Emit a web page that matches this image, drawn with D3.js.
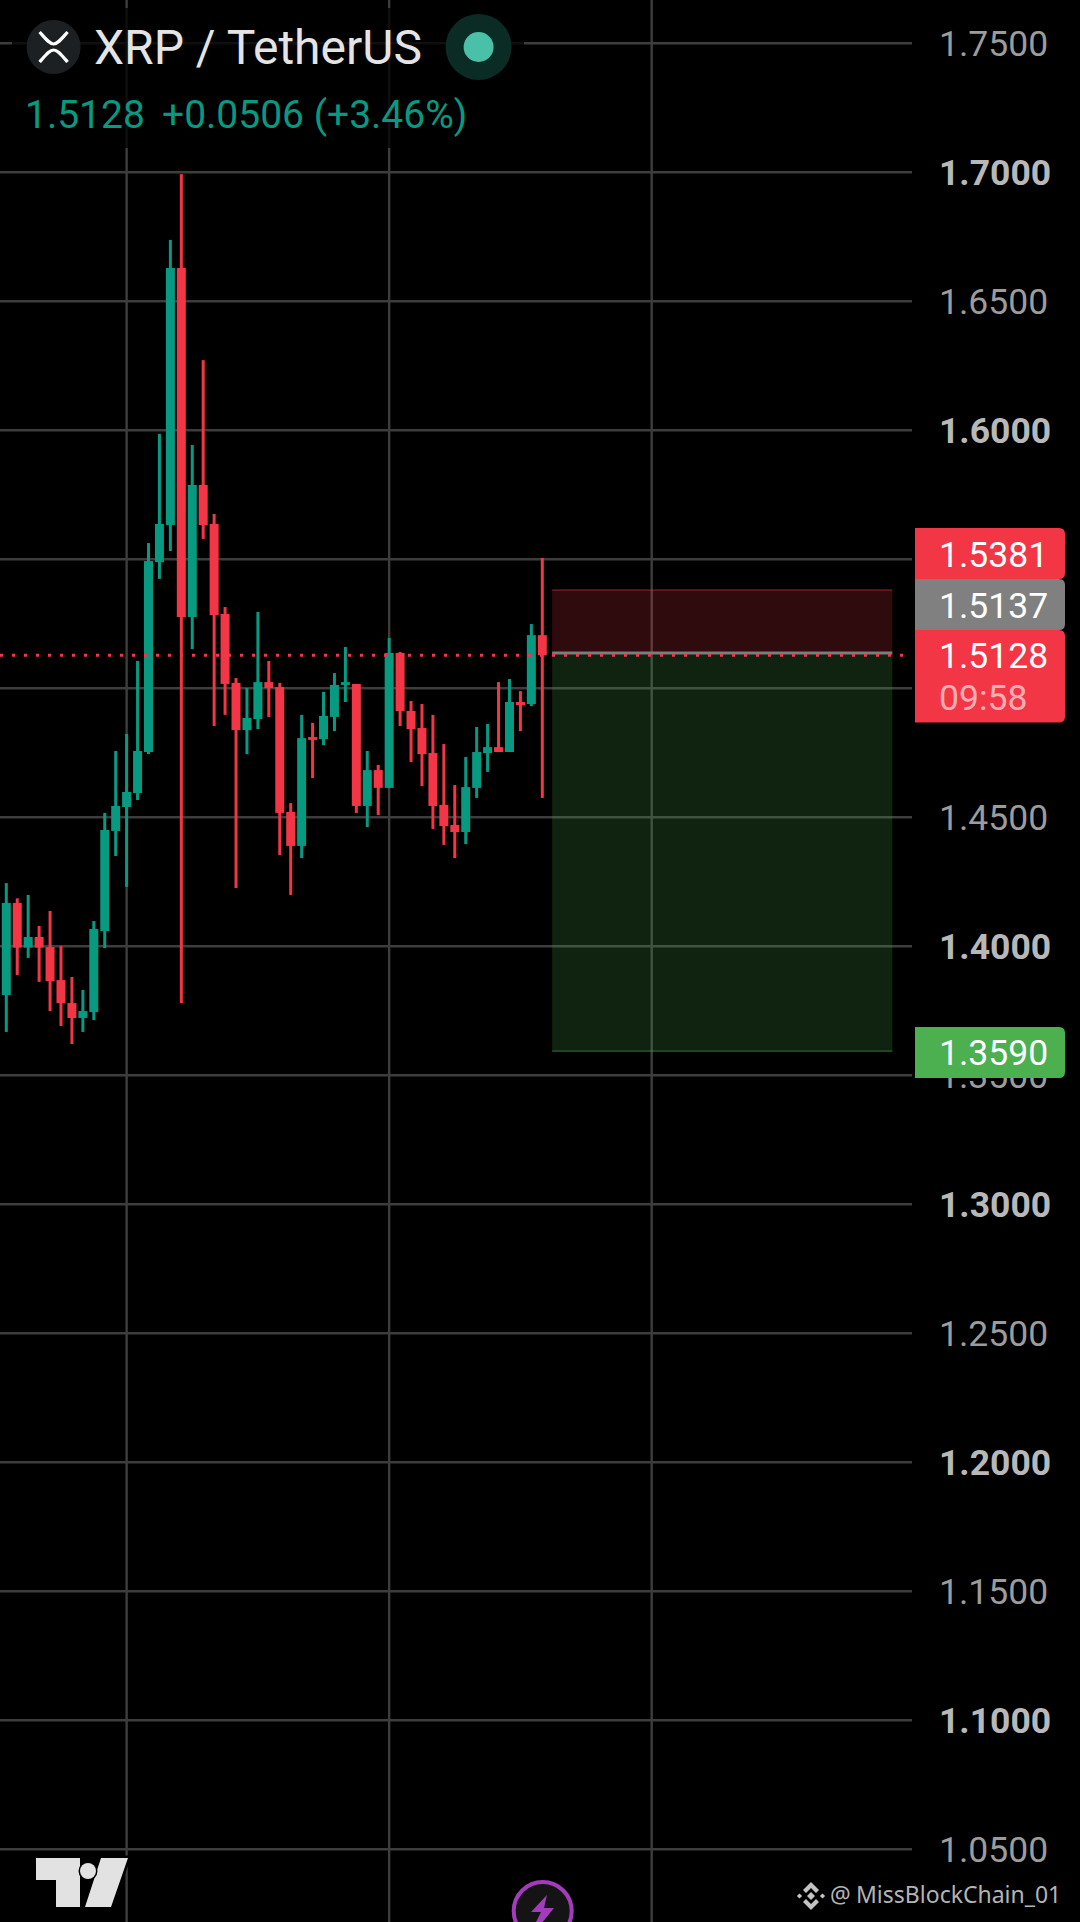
<!DOCTYPE html>
<html>
<head>
<meta charset="utf-8">
<script src="https://cdn.jsdelivr.net/npm/d3@7"></script>
<style>
  html, body { margin: 0; padding: 0; background: #000; }
  svg { display: block; }
  text { font-family: Roboto, sans-serif; }
</style>
</head>
<body>
<div id="chart"></div>
<script>
// Data //
const opens = [1.3811,1.4168,1.3995,1.4036,1.3997,1.3869,1.3780,1.3722,1.3745,1.4059,
  1.4447,1.4540,1.4594,1.4753,1.5489,1.5633,1.6629,1.5276,1.5788,1.5637,
  1.5288,1.5021,1.4838,1.4881,1.5024,1.5005,1.4521,1.4389,1.4811,1.4803,
  1.4889,1.5013,1.5017,1.4544,1.4683,1.4614,1.5137,1.4912,1.4846,1.4749,
  1.4548,1.4470,1.4443,1.4614,1.4749,1.4772,1.4753,1.4947,1.4939,1.5206];
const highs = [1.4245,1.4186,1.4199,1.4079,1.4137,1.4001,1.3881,1.3831,1.4098,1.4517,
  1.4757,1.4823,1.5106,1.5563,1.5986,1.6738,1.6993,1.5943,1.6272,1.5676,
  1.5315,1.5040,1.5001,1.5296,1.5106,1.5021,1.4555,1.4897,1.4866,1.4986,
  1.5059,1.5160,1.5017,1.4757,1.4703,1.5195,1.5141,1.4951,1.4939,1.4897,
  1.4784,1.4625,1.4734,1.4850,1.4862,1.5024,1.5036,1.4989,1.5249,1.5505];
const lows = [1.3668,1.3889,1.3955,1.3862,1.3749,1.3691,1.3621,1.3668,1.3714,1.3993,
  1.4350,1.4230,1.4567,1.4745,1.5424,1.5532,1.3780,1.5152,1.5579,1.4854,
  1.4897,1.4226,1.4745,1.4842,1.4889,1.4354,1.4199,1.4342,1.4652,1.4780,
  1.4834,1.4947,1.4517,1.4462,1.4509,1.4614,1.4854,1.4714,1.4621,1.4455,
  1.4393,1.4342,1.4396,1.4575,1.4676,1.4753,1.4753,1.4834,1.4931,1.4575];
const closes = [1.4168,1.3995,1.4036,1.3995,1.3865,1.3780,1.3722,1.3749,1.4067,1.4451,
  1.4544,1.4598,1.4757,1.5493,1.5637,1.6629,1.5276,1.5788,1.5633,1.5284,
  1.5017,1.4838,1.4885,1.5024,1.5001,1.4517,1.4389,1.4807,1.4800,1.4893,
  1.5013,1.5024,1.4544,1.4683,1.4614,1.5137,1.4912,1.4842,1.4745,1.4544,
  1.4466,1.4443,1.4617,1.4753,1.4772,1.4753,1.4947,1.4935,1.5206,1.5128];

const priceTicks = [1.05,1.10,1.15,1.20,1.25,1.30,1.35,1.40,1.45,1.50,1.55,1.60,1.65,1.70,1.75];
const timeTicks = [11, 35, 59]; // candle index of the vertical grid lines

const stopPrice = 1.5381;
const entryPrice = 1.5137;
const lastPrice = 1.5128;
const targetPrice = 1.3590;
const positionRange = [49.9, 81]; // candle index where the position box starts and ends

const symbolTitle = "XRP / TetherUS";
const priceText = "1.5128";
const changeText = "+0.0506 (+3.46%)";
const countdownText = "09:58";
const watermarkText = "MissBlockChain_01";

// Settings //
const svgStyles = { w: 1080, h: 1922 };
const plotRight = 912;
const colors = {
  up: "#089981",
  down: "#F23645",
  grid: "#3d3d3d",
  tick: "#9c9c9c",
  tickBold: "#b8b8b8",
  tagGreen: "#4CAF50",
  tagGray: "#808080"
};

const svg = d3
  .select("#chart")
  .append("svg")
  .attr("width", svgStyles.w)
  .attr("height", svgStyles.h);

// Scales
const xScale = d3.scaleLinear().domain([0, 49]).range([6.3, 542.3]);
const yScale = d3.scaleLinear().domain([1.05, 1.75]).range([1849.3, 43.3]);

// Grid
svg
  .append("g")
  .selectAll("line")
  .data(priceTicks)
  .enter()
  .append("line")
  .attr("x1", 0)
  .attr("x2", plotRight)
  .attr("y1", d => yScale(d))
  .attr("y2", d => yScale(d))
  .attr("stroke", colors.grid)
  .attr("stroke-width", 2.4);

svg
  .append("g")
  .selectAll("line")
  .data(timeTicks)
  .enter()
  .append("line")
  .attr("x1", d => xScale(d))
  .attr("x2", d => xScale(d))
  .attr("y1", 0)
  .attr("y2", svgStyles.h)
  .attr("stroke", colors.grid)
  .attr("stroke-width", 2.4);

// Price axis
const yAxis = d3
  .axisRight(yScale)
  .tickValues(priceTicks)
  .tickFormat(d3.format(".4f"))
  .tickSize(0)
  .tickPadding(27);

const axisG = svg
  .append("g")
  .attr("transform", `translate(${plotRight}, 0)`)
  .call(yAxis);
axisG.select(".domain").remove();
axisG
  .selectAll("text")
  .attr("dy", "0.35em")
  .style("font-family", "Roboto, sans-serif")
  .style("font-size", "35.5px")
  .style("font-weight", d => (Math.round(d * 100) % 10 === 0 ? 700 : 400))
  .attr("fill", d => (Math.round(d * 100) % 10 === 0 ? colors.tickBold : colors.tick));

// Position box
const boxX = xScale(positionRange[0]);
const boxW = xScale(positionRange[1]) - boxX;

svg
  .append("rect")
  .attr("x", boxX)
  .attr("y", yScale(stopPrice))
  .attr("width", boxW)
  .attr("height", yScale(entryPrice) - yScale(stopPrice))
  .attr("fill", "rgba(242, 54, 69, 0.2)");
svg
  .append("rect")
  .attr("x", boxX)
  .attr("y", yScale(entryPrice))
  .attr("width", boxW)
  .attr("height", yScale(targetPrice) - yScale(entryPrice))
  .attr("fill", "rgba(76, 175, 80, 0.2)");
svg
  .append("line")
  .attr("x1", boxX)
  .attr("x2", boxX + boxW)
  .attr("y1", yScale(stopPrice))
  .attr("y2", yScale(stopPrice))
  .attr("stroke", "rgba(242, 54, 69, 0.3)")
  .attr("stroke-width", 2);
svg
  .append("line")
  .attr("x1", boxX)
  .attr("x2", boxX + boxW)
  .attr("y1", yScale(targetPrice) - 1)
  .attr("y2", yScale(targetPrice) - 1)
  .attr("stroke", "rgba(76, 175, 80, 0.25)")
  .attr("stroke-width", 2);
svg
  .append("line")
  .attr("x1", boxX)
  .attr("x2", boxX + boxW)
  .attr("y1", yScale(entryPrice))
  .attr("y2", yScale(entryPrice))
  .attr("stroke", "#7c7c7c")
  .attr("stroke-width", 3);

// Candles
const candles = svg
  .append("g")
  .selectAll("g")
  .data(opens.map((o, i) => i))
  .enter()
  .append("g")
  .attr("fill", i => (closes[i] >= opens[i] ? colors.up : colors.down));

candles
  .append("rect")
  .attr("x", i => xScale(i) - 1.5)
  .attr("width", 3)
  .attr("y", i => yScale(highs[i]))
  .attr("height", i => yScale(lows[i]) - yScale(highs[i]));

candles
  .append("rect")
  .attr("x", i => xScale(i) - 4.5)
  .attr("width", 9)
  .attr("y", i => yScale(Math.max(opens[i], closes[i])))
  .attr("height", i => Math.abs(yScale(opens[i]) - yScale(closes[i])));

// Last price dotted line
svg
  .append("line")
  .attr("x1", 0)
  .attr("x2", plotRight - 6)
  .attr("y1", yScale(lastPrice))
  .attr("y2", yScale(lastPrice))
  .attr("stroke", colors.down)
  .attr("stroke-width", 3)
  .attr("stroke-dasharray", "3 9");

// Header
svg
  .append("rect")
  .attr("x", 12)
  .attr("y", 8)
  .attr("width", 512)
  .attr("height", 140)
  .attr("fill", "rgba(0, 0, 0, 0.75)");

const logo = svg.append("g").attr("transform", "translate(53.6, 47)");
logo.append("circle").attr("r", 27).attr("fill", "#1d2022");
logo
  .append("path")
  .attr("d", "M-14,-15 C-7,-7 -4,-3 0,-3 C4,-3 7,-7 14,-15 M-14,15 C-7,7 -4,3 0,3 C4,3 7,7 14,15")
  .attr("fill", "none")
  .attr("stroke", "#fff")
  .attr("stroke-width", 3.2);

svg
  .append("text")
  .attr("x", 94)
  .attr("y", 64)
  .attr("fill", "#e4e4e4")
  .style("font-size", "48px")
  .text(symbolTitle);

svg.append("circle").attr("cx", 478.6).attr("cy", 47).attr("r", 33).attr("fill", "#0b2c25");
svg.append("circle").attr("cx", 478.6).attr("cy", 47).attr("r", 15).attr("fill", "#4ac0a8");

svg
  .append("text")
  .attr("x", 25)
  .attr("y", 128)
  .attr("fill", colors.up)
  .style("font-size", "39px")
  .text(priceText);
svg
  .append("text")
  .attr("x", 162)
  .attr("y", 128)
  .attr("fill", colors.up)
  .style("font-size", "39px")
  .text(changeText);

// Price tags
function priceTag(top, bottom, color, label, baseline) {
  const r = 6;
  const left = 915;
  const right = 1065;
  svg
    .append("path")
    .attr(
      "d",
      `M${left},${top} H${right - r} Q${right},${top} ${right},${top + r} V${bottom - r} Q${right},${bottom} ${right - r},${bottom} H${left} Z`
    )
    .attr("fill", color);
  svg
    .append("text")
    .attr("x", 939)
    .attr("y", baseline)
    .attr("fill", "#fff")
    .style("font-size", "35.5px")
    .text(label);
}

const tagFormat = d3.format(".4f");
priceTag(1027, 1078, colors.tagGreen, tagFormat(targetPrice), 1065);
priceTag(528, 579, colors.down, tagFormat(stopPrice), 567);
priceTag(579, 630, colors.tagGray, tagFormat(entryPrice), 618);
priceTag(630, 722.5, colors.down, tagFormat(lastPrice), 668);
svg
  .append("text")
  .attr("x", 939)
  .attr("y", 710)
  .attr("fill", "#fff")
  .attr("fill-opacity", 0.62)
  .style("font-size", "35.5px")
  .text(countdownText);

// TradingView mark
svg
  .append("path")
  .attr("d", "M36,1858 H80 V1907 H56 V1880 H36 Z M101,1858 H128 L111,1907 H85 Z")
  .attr("fill", "#e2e2e2")
  .attr("stroke", "#000")
  .attr("stroke-width", 5)
  .attr("paint-order", "stroke");
svg
  .append("circle")
  .attr("cx", 88)
  .attr("cy", 1871)
  .attr("r", 8)
  .attr("fill", "#e2e2e2")
  .attr("stroke", "#000")
  .attr("stroke-width", 3)
  .attr("paint-order", "stroke");

// Lightning badge, cut off by the bottom of the page
svg.append("circle").attr("cx", 542.7).attr("cy", 1911).attr("r", 33).attr("fill", "#000");
svg
  .append("circle")
  .attr("cx", 542.7)
  .attr("cy", 1911)
  .attr("r", 29)
  .attr("fill", "#141414")
  .attr("stroke", "#a23cbc")
  .attr("stroke-width", 4);
svg
  .append("path")
  .attr("d", "M547,1895 L531,1912 H541 L535,1924 H541 L554,1908 H544 Z")
  .attr("fill", "#a23cbc");

// Watermark
const diamond = (cx, cy, r) => `M${cx - r},${cy} L${cx},${cy - r} L${cx + r},${cy} L${cx},${cy + r} Z`;
svg
  .append("path")
  .attr(
    "d",
    [[811, 1896, 4], [799.5, 1896, 2.6], [822.5, 1896, 2.6]].map(d => diamond(...d)).join(" ") +
      " M803,1890 L811,1882 L819,1890 L816,1893 L811,1888 L806,1893 Z" +
      " M803,1902 L811,1910 L819,1902 L816,1899 L811,1904 L806,1899 Z"
  )
  .attr("fill", "#c4c4c4");
svg
  .append("text")
  .attr("x", 830)
  .attr("y", 1903)
  .attr("fill", "#b4b4b4")
  .style("font-family", "'Noto Sans', sans-serif")
  .style("font-size", "23px")
  .text("@");
svg
  .append("text")
  .attr("x", 856)
  .attr("y", 1903)
  .attr("fill", "#b4b4b4")
  .style("font-family", "'Noto Sans', sans-serif")
  .style("font-size", "23px")
  .text(watermarkText);
</script>
</body>
</html>
